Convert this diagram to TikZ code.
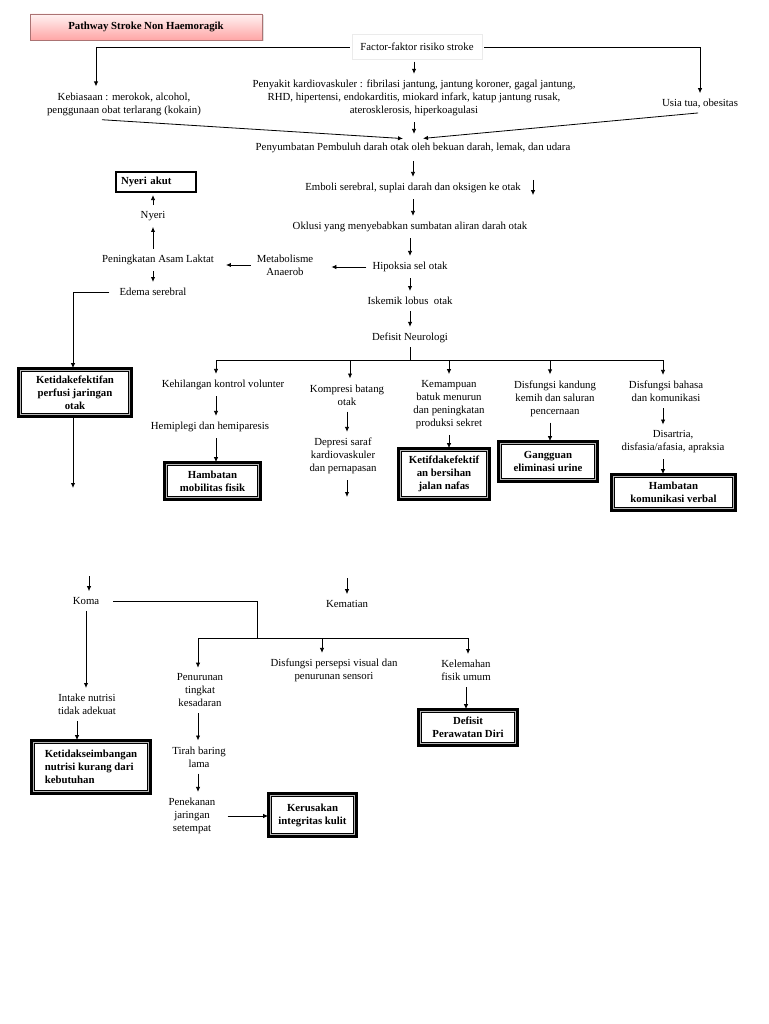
\documentclass[tikz,border=0pt]{standalone}
\usepackage{fontspec}
\setmainfont{Liberation Serif}
\usetikzlibrary{arrows.meta,shadows}

\begin{document}
\begin{tikzpicture}[x=1pt,y=-1pt]
	\tikzstyle{txt} = [
		align=center, inner sep=4pt, font=\fontsize{10.8}{13}\selectfont
	]
	\tikzstyle{diag} = [
		txt, font=\fontsize{10.8}{13}\selectfont\bfseries, fill=white, draw=black, line width=0.7pt,
		double=gray!55, double distance=1.6pt, preaction={draw=black, line width=7pt}
	]
	\tikzstyle{judulbox} = [
		draw=red!40!black!55, top color=red!5, bottom color=red!35,
		drop shadow={opacity=0.25, shadow xshift=1.5pt, shadow yshift=-1.5pt},
		font=\fontsize{10.8}{13}\selectfont\bfseries, minimum width=232pt, minimum height=26pt
	]
	\tikzstyle{conn} = [
		-{Latex[length=5pt,width=4.4pt]}, line width=0.8pt, shorten <=2pt, shorten >=2pt
	]
	\tikzstyle{link} = [
		line width=0.8pt
	]

	\fill[white] (0,0) rectangle (768,1024);
	\useasboundingbox (0,0) rectangle (768,1024);

	% Judul
	\node (judul) [judulbox] at (146,27) {Pathway Stroke Non Haemoragik};

	% Faktor risiko
	\node (faktor) [txt, draw=black!8, minimum width=130pt, minimum height=25pt] at (417,47) {Factor-faktor risiko stroke};
	\node (kebiasaan) [txt] at (124,104) {Kebiasaan : merokok, alcohol,\\penggunaan obat terlarang (kokain)};
	\node (penyakit) [txt] at (414,98) {Penyakit kardiovaskuler : fibrilasi jantung, jantung koroner, gagal jantung,\\RHD, hipertensi, endokarditis, miokard infark, katup jantung rusak,\\aterosklerosis, hiperkoagulasi};
	\node (usia) [txt] at (700,104) {Usia tua, obesitas};

	% Alur utama
	\node (sumbatan) [txt] at (413,148) {Penyumbatan Pembuluh darah otak oleh bekuan darah, lemak, dan udara};
	\node (emboli) [txt] at (413,188) {Emboli serebral, suplai darah dan oksigen ke otak};
	\node (oklusi) [txt] at (410,227) {Oklusi yang menyebabkan sumbatan aliran darah otak};
	\node (hipoksia) [txt] at (410,267) {Hipoksia sel otak};
	\node (iskemik) [txt] at (410,301) {Iskemik lobus \ otak};
	\node (defisit) [txt] at (410,338) {Defisit Neurologi};

	% Cabang kiri
	\node (metabolisme) [txt] at (285,265) {Metabolisme\\Anaerob};
	\node (laktat) [txt] at (158,260) {Peningkatan Asam Laktat};
	\node (nyeri) [txt] at (153,216) {Nyeri};
	\node (nyeriakut) [txt, font=\fontsize{10.8}{13}\selectfont\bfseries, draw=black, line width=2.2pt,
		align=left, text width=70pt, inner sep=5pt, minimum height=20pt] at (156,182) {Nyeri akut};
	\node (edema) [txt] at (153,292) {Edema serebral};
	\node (perfusi) [diag, minimum width=109pt, minimum height=44pt] at (75,392.5) {Ketidakefektifan\\perfusi jaringan\\otak};

	% Defisit neurologi
	\node (kontrol) [txt] at (223,385) {Kehilangan kontrol volunter};
	\node (hemiplegi) [txt] at (210,427) {Hemiplegi dan hemiparesis};
	\node (mobilitas) [diag, minimum width=92pt, minimum height=33pt] at (212.5,481) {Hambatan\\mobilitas fisik};
	\node (kompresi) [txt] at (347,395) {Kompresi batang\\otak};
	\node (depresi) [txt] at (343,456) {Depresi saraf\\kardiovaskuler\\dan pernapasan};
	\node (batuk) [txt] at (449,404.5) {Kemampuan\\batuk menurun\\dan peningkatan\\produksi sekret};
	\node (bersihan) [diag, minimum width=87pt, minimum height=47pt] at (444,474) {Ketifdakefektif\\an bersihan\\jalan nafas};
	\node (kandung) [txt] at (555,398.5) {Disfungsi kandung\\kemih dan saluran\\pencernaan};
	\node (eliminasi) [diag, minimum width=95pt, minimum height=36pt] at (548,461.5) {Gangguan\\eliminasi urine};
	\node (bahasa) [txt] at (666,391.5) {Disfungsi bahasa\\dan komunikasi};
	\node (disartria) [txt] at (673,442) {Disartria,\\disfasia/afasia, apraksia};
	\node (komunikasi) [diag, minimum width=120pt, minimum height=32pt] at (673.5,492.5) {Hambatan\\komunikasi verbal};

	% Bawah
	\node (koma) [txt] at (86,601) {Koma};
	\node (kematian) [txt] at (347,604) {Kematian};
	\node (penurunan) [txt] at (200,690.5) {Penurunan\\tingkat\\kesadaran};
	\node (persepsi) [txt] at (334,670.5) {Disfungsi persepsi visual dan\\penurunan sensori};
	\node (kelemahan) [txt] at (466,670.5) {Kelemahan\\fisik umum};
	\node (perawatan) [diag, minimum width=95pt, minimum height=32pt] at (468,727.5) {Defisit\\Perawatan Diri};
	\node (intake) [txt] at (87,704.5) {Intake nutrisi\\tidak adekuat};
	\node (nutrisi) [diag, align=left, minimum width=115pt, minimum height=49pt] at (91,767) {Ketidakseimbangan\\nutrisi kurang dari\\kebutuhan};
	\node (tirah) [txt] at (199,757) {Tirah baring\\lama};
	\node (penekanan) [txt] at (192,816) {Penekanan\\jaringan\\setempat};
	\node (kulit) [diag, minimum width=84pt, minimum height=39pt] at (312.5,815) {Kerusakan\\integritas kulit};

	% Titik bantu
	\coordinate (emboli_x) at (533,178);
	\coordinate (bus1) at (410,360);
	\coordinate (b1) at (216,360);
	\coordinate (b2) at (350,360);
	\coordinate (b3) at (449,360);
	\coordinate (b4) at (550,360);
	\coordinate (b5) at (663,360);
	\coordinate (perfusi_end) at (73,490);
	\coordinate (depresi_end) at (347,499);
	\coordinate (koma_in) at (89,574);
	\coordinate (kematian_in) at (347,576);
	\coordinate (koma_r) at (257,601);
	\coordinate (bus2) at (257,638);
	\coordinate (c1) at (198,638);
	\coordinate (c2) at (322,638);
	\coordinate (c3) at (468,638);

	% Faktor -> penyumbatan
	\draw[conn] (faktor.west) -| ([xshift=-28pt]kebiasaan.north);
	\draw[conn] (faktor.east) -| (usia);
	\draw[conn] (penyakit |- faktor.south) -- (penyakit);
	\draw[conn, shorten >=5pt] ([xshift=-24pt]kebiasaan.south) -- ([xshift=-5pt]sumbatan.north);
	\draw[conn, shorten >=5pt] (penyakit) -- (penyakit |- sumbatan.north);
	\draw[conn, shorten >=5pt] (usia.south) -- ([xshift=5pt]sumbatan.north);

	% Alur utama
	\draw[conn, shorten <=4pt] (sumbatan) -- (sumbatan |- emboli.north);
	\draw[conn] (emboli_x) -- (emboli_x |- emboli.south);
	\draw[conn] (emboli) -- (emboli |- oklusi.north);
	\draw[conn] (oklusi) -- (oklusi |- hipoksia.north);
	\draw[conn] (hipoksia) -- (hipoksia |- iskemik.north);
	\draw[conn] (iskemik) -- (iskemik |- defisit.north);

	% Cabang kiri
	\draw[conn, shorten >=14pt] (hipoksia) -- (hipoksia -| metabolisme.east);
	\draw[conn, shorten >=8pt] (metabolisme) -- (metabolisme -| laktat.east);
	\draw[conn] (nyeri |- laktat.north) -- (nyeri);
	\draw[conn] (nyeri) -- (nyeri |- nyeriakut.south);
	\draw[conn] (edema |- laktat.south) -- (edema);
	\draw[conn, shorten <=6pt] (edema.west) -| (perfusi_end |- perfusi.north);
	\draw[conn] (perfusi_end |- perfusi.south) -- (perfusi_end);

	% Defisit neurologi
	\draw[link] (defisit) -- (bus1);
	\draw[link] (b1) -- (b5);
	\foreach \t/\n in {b1/kontrol, b2/kompresi, b3/batuk, b4/kandung, b5/bahasa}
		\draw[conn, shorten <=0pt] (\t) -- (\t |- \n.north);
	\draw[conn] (b1 |- kontrol.south) -- (b1 |- hemiplegi.north);
	\draw[conn] (b1 |- hemiplegi.south) -- (b1 |- mobilitas.north);
	\draw[conn] (kompresi) -- (kompresi |- depresi.north);
	\draw[conn] (depresi_end |- depresi.south) -- (depresi_end);
	\draw[conn, line width=0.6pt] (batuk) -- (batuk |- bersihan.north);
	\draw[conn, line width=0.6pt] (b4 |- kandung.south) -- (b4 |- eliminasi.north);
	\draw[conn] (b5 |- bahasa.south) -- (b5 |- disartria.north);
	\draw[conn] (b5 |- disartria.south) -- (b5 |- komunikasi.north);

	% Koma
	\draw[conn] (koma_in) -- (koma_in |- koma.north);
	\draw[conn] (kematian_in) -- (kematian);
	\draw[link, shorten <=10pt] (koma) -- (koma_r) -- (bus2);
	\draw[link] (c1) -- (c3);
	\foreach \t/\n in {c1/penurunan, c2/persepsi, c3/kelemahan}
		\draw[conn, shorten <=0pt] (\t) -- (\t |- \n.north);
	\draw[conn] (kelemahan) -- (kelemahan |- perawatan.north);
	\draw[conn] (koma) -- (koma |- intake.north);
	\draw[conn] ([xshift=-10pt]intake.south) -- ([xshift=-10pt]intake.south |- nutrisi.north);
	\draw[conn] (c1 |- penurunan.south) -- (c1 |- tirah.north);
	\draw[conn] (c1 |- tirah.south) -- (c1 |- penekanan.north);
	\draw[conn, shorten <=8pt] (penekanan) -- (penekanan -| kulit.west);
\end{tikzpicture}
\end{document}
